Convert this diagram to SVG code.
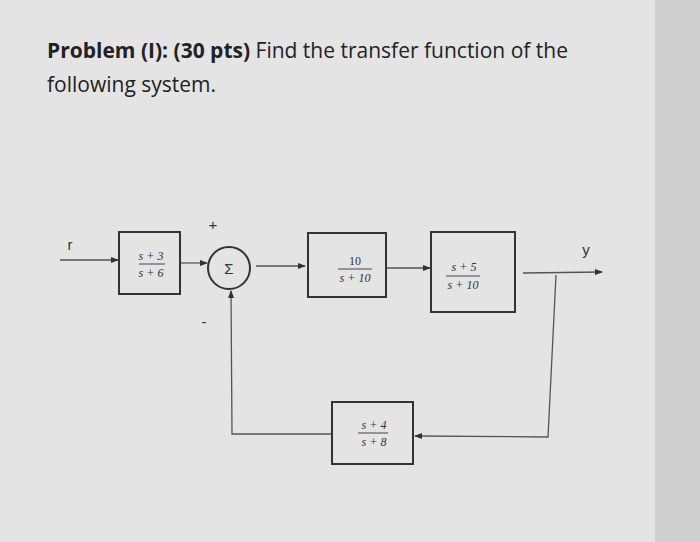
<svg xmlns="http://www.w3.org/2000/svg" width="700" height="542" viewBox="0 0 700 542">
<defs>
<marker id="ar" markerWidth="8" markerHeight="6" refX="7" refY="3" orient="auto" markerUnits="userSpaceOnUse"><path d="M0,0 L8,3 L0,6 Z" fill="#333"/></marker>
<style>
.b{fill:none;stroke:#333;stroke-width:2}
.l{fill:none;stroke:#555;stroke-width:1.3}
.t{font-family:"Liberation Serif",serif;font-style:italic;font-size:12px;fill:#333;text-anchor:middle}
.n{font-style:normal}
.h{font-family:"Open Sans","Liberation Sans",sans-serif;font-size:21px;fill:#222}
.s{font-family:"Liberation Sans",sans-serif;font-size:15px;fill:#333;text-anchor:middle}
</style>
</defs>
<rect width="700" height="542" fill="#e4e4e4"/>
<rect x="655" width="45" height="542" fill="#cfcfcf"/>
<text x="47" y="58" class="h"><tspan font-weight="bold">Problem (I):  (30 pts)</tspan> Find the transfer function of the</text>
<text x="47" y="92" class="h">following system.</text>
<text x="70" y="250" class="s">r</text>
<text x="586" y="255" class="s" font-size="17">y</text>
<text x="213" y="230" class="s">+</text>
<text x="204" y="327" class="s">-</text>
<g id="connectors">
<line x1="60" y1="260" x2="118" y2="260" class="l" marker-end="url(#ar)"/>
<line x1="181" y1="263" x2="207" y2="263" class="l" marker-end="url(#ar)"/>
<line x1="256" y1="266" x2="305" y2="266" class="l" marker-end="url(#ar)"/>
<line x1="387" y1="268" x2="430" y2="268" class="l" marker-end="url(#ar)"/>
<line x1="523" y1="273" x2="602" y2="272" class="l" marker-end="url(#ar)"/>
<polyline points="556,275 548,437 415,436" class="l" marker-end="url(#ar)"/>
<polyline points="332,434 232,434 231,291" class="l" marker-end="url(#ar)"/>
</g>
<g id="G1"><rect x="119" y="232" width="61" height="62" class="b"/><text x="151" y="260" class="t">s + 3</text><line x1="139" y1="264" x2="165" y2="264" stroke="#444"/><text x="151" y="277" class="t">s + 6</text></g>
<g id="sum"><circle cx="229" cy="268" r="21" class="b"/><text x="229" y="274" class="s">Σ</text></g>
<g id="G2"><rect x="308" y="233" width="78" height="64" class="b"/><text x="355" y="265" class="t n">10</text><line x1="338" y1="269" x2="372" y2="269" stroke="#444"/><text x="355" y="282" class="t">s + 10</text></g>
<g id="G3"><rect x="431" y="232" width="84" height="80" class="b"/><text x="464" y="271" class="t">s + 5</text><line x1="446" y1="276" x2="480" y2="276" stroke="#444"/><text x="463" y="289" class="t">s + 10</text></g>
<g id="H"><rect x="332" y="402" width="81" height="62" class="b"/><text x="374" y="429" class="t">s + 4</text><line x1="358" y1="433" x2="388" y2="433" stroke="#444"/><text x="374" y="446" class="t">s + 8</text></g>
</svg>
